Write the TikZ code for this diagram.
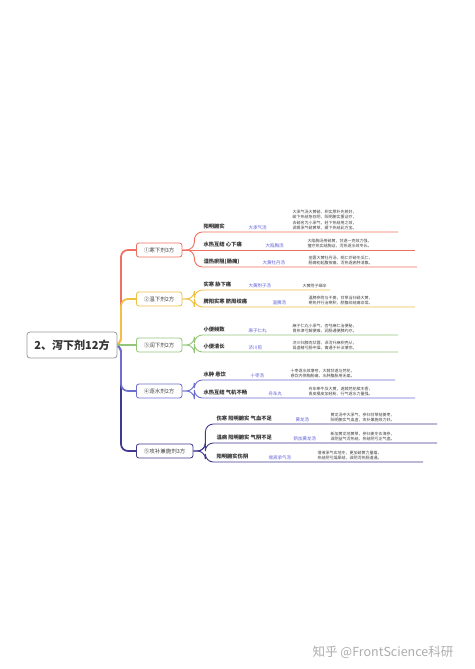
\documentclass[tikz,border=0pt]{standalone}
\usepackage{fontspec}
\setmainfont{Noto Sans CJK SC}
\definecolor{c1}{HTML}{EE7060}
\definecolor{c2}{HTML}{F0C040}
\definecolor{c3}{HTML}{92C77A}
\definecolor{c4}{HTML}{6E6FCC}
\definecolor{c5}{HTML}{3F3A8E}
\definecolor{fcol}{HTML}{5E5ED6}
\definecolor{rootline}{HTML}{9A9A9A}
\pgfdeclarelayer{paper}
\pgfdeclarelayer{bg}
\pgfsetlayers{paper,bg,main}
\begin{document}
\begin{tikzpicture}[x=1pt,y=-1pt,
  rootbox/.style={draw=rootline, line width=0.8pt, rounded corners=3pt, fill=white,
    minimum width=90pt, minimum height=26pt, inner sep=0pt,
    font=\bfseries\fontsize{11}{12}\selectfont, text=black!80},
  lvlone/.style={draw=#1, line width=0.8pt, rounded corners=2.5pt, fill=white,
    inner xsep=7.5pt, inner ysep=0pt, minimum height=14pt, anchor=west,
    font=\fontsize{5.5}{6}\selectfont, text=black!75},
  trunk/.style={draw=#1, line width=1.7pt, rounded corners=7pt},
  twig/.style={draw=#1, line width=0.9pt, rounded corners=8pt},
  lab/.style={anchor=south west, inner sep=0.3pt, font=\bfseries\fontsize{5.3}{6}\selectfont, text=black!80},
  form/.style={anchor=south west, inner sep=0.3pt, font=\fontsize{4.5}{5}\selectfont, text=fcol},
  desc/.style={anchor=south west, inner sep=0.3pt, align=left, font=\fontsize{4}{5.3}\selectfont, text=black!75},
  wm/.style={font=\fontsize{12.5}{14}\selectfont, text=black!32}
]
\begin{pgfonlayer}{paper}
\fill[white] (0,0) rectangle (474,669);
\end{pgfonlayer}
\useasboundingbox (0,0) rectangle (474,669);

% root and level-1 boxes
\node[rootbox] (root) at (72,345) {2、泻下剂12方};
\coordinate (hub) at (121,345);
\node[lvlone=c1] (b1) at (136,250) {①寒下剂3方};
\node[lvlone=c2] (b2) at (136,299) {②温下剂2方};
\node[lvlone=c3] (b3) at (136,345) {③润下剂2方};
\node[lvlone=c4] (b4) at (136,391) {④逐水剂2方};
\node[lvlone=c5] (b5) at (136,451) {⑤攻补兼施剂3方};

% level-1 connectors
\begin{pgfonlayer}{bg}
\draw[trunk=c1] (root.east) -- (hub) |- (b1.west);
\draw[trunk=c5] (root.east) -- (hub) |- (b5.west);
\draw[trunk=c2] (root.east) -- (hub) |- (b2.west);
\draw[trunk=c4] (root.east) -- (hub) |- (b4.west);
\draw[trunk=c3] (root.east) -- (b3.west);
\end{pgfonlayer}

% ---------- branch 1 ----------
\coordinate (k11) at (398,232);
\coordinate (k12) at (415,250);
\coordinate (k13) at (417,267);
\draw[twig=c1] (b1.east) -- ++(12,0) |- (k11);
\draw[twig=c1] (b1.east) -- (k12);
\draw[twig=c1] (b1.east) -- ++(12,0) |- (k13);
\node[lab] (l11) at (203,230) {阳明腑实};
\node[form] (f11) at (248,230) {大承气汤};
\node[desc] (d11) at (292,230.5) {大承气汤大黄硝，枳实厚朴先煎好，\\峻下热结急存阴，阳明腑实重证疗，\\去硝名为小承气，轻下热结用之效，\\调胃承气硝黄草，缓下热结此方宝。};
\node[lab] (l12) at (203,248) {水热互结 心下痛};
\node[form] (f12) at (265,248) {大陷胸汤};
\node[desc] (d12) at (307,248.5) {大陷胸汤用硝黄，甘遂一克效力强，\\擅疗热实结胸证，泻热逐水效专长。};
\node[lab] (l13) at (203,265) {湿热瘀阻(肠痈)};
\node[form] (f13) at (262,265) {大黄牡丹汤};
\node[desc] (d13) at (308,265.5) {金匮大黄牡丹汤，桃仁芒硝冬瓜仁，\\肠痈初起腹按痛，泻热逐瘀肿消散。};

% ---------- branch 2 ----------
\coordinate (k21) at (330,290);
\coordinate (k22) at (415,307);
\draw[twig=c2] (b2.east) -- ++(12,0) |- (k21);
\draw[twig=c2] (b2.east) -- ++(12,0) |- (k22);
\node[lab] (l21) at (203,288) {实寒 胁下痛};
\node[form] (f21) at (248,288) {大黄附子汤};
\node[desc] (d21) at (302,288.5) {大黄附子细辛};
\node[lab] (l22) at (203,305) {脾阳实寒 脐周绞痛};
\node[form] (f22) at (272,305) {温脾汤};
\node[desc] (d22) at (308,305.5) {温脾参附与干姜，甘草当归硝大黄，\\寒热并行治寒积，脐腹绞结痛非常。};

% ---------- branch 3 ----------
\coordinate (k31) at (398,335);
\coordinate (k32) at (398,352);
\draw[twig=c3] (b3.east) -- ++(12,0) |- (k31);
\draw[twig=c3] (b3.east) -- ++(12,0) |- (k32);
\node[lab] (l31) at (203,333) {小便频数};
\node[form] (f31) at (248,333) {麻子仁丸};
\node[desc] (d31) at (292,333.5) {麻子仁丸小承气，杏芍麻仁治便秘，\\胃热津亏解便难，润肠通便脾约疗。};
\node[lab] (l32) at (203,350) {小便清长};
\node[form] (f32) at (248,350) {济川煎};
\node[desc] (d32) at (292,350.5) {济川归膝肉苁蓉，泽泻升麻枳壳从，\\肾虚精亏肠中燥，寓通于补法堪宗。};

% ---------- branch 4 ----------
\coordinate (k41) at (395,380);
\coordinate (k42) at (415,398);
\draw[twig=c4] (b4.east) -- ++(12,0) |- (k41);
\draw[twig=c4] (b4.east) -- ++(12,0) |- (k42);
\node[lab] (l41) at (203,378) {水肿 悬饮};
\node[form] (f41) at (250,378) {十枣汤};
\node[desc] (d41) at (290,378.5) {十枣逐水效堪夸，大戟甘遂与芫花，\\悬饮内停胸胁痛，水肿腹胀用无差。};
\node[lab] (l42) at (203,396) {水热互结 气机不畅};
\node[form] (f42) at (268,396) {舟车丸};
\node[desc] (d42) at (308,396.5) {舟车牵牛及大黄，遂戟芫花槟木香，\\青皮橘皮加轻粉，行气逐水力量强。};

% ---------- branch 5 ----------
\coordinate (k51) at (437,424);
\coordinate (k52) at (437,443);
\coordinate (k53) at (423,462);
\draw[twig=c5] (b5.east) -- ++(12,0) |- (k51);
\draw[twig=c5] (b5.east) -- ++(12,0) |- (k52);
\draw[twig=c5] (b5.east) -- ++(12,0) |- (k53);
\node[lab] (l51) at (216,422) {伤寒 阳明腑实 气血不足};
\node[form] (f51) at (295,422) {黄龙汤};
\node[desc] (d51) at (330,422.5) {黄龙汤中大承气，参归甘草桔姜枣，\\阳明腑实气血虚，攻补兼施效力好。};
\node[lab] (l52) at (216,441) {温病 阳明腑实 气阴不足};
\node[form] (f52) at (293,441) {新加黄龙汤};
\node[desc] (d52) at (330,441.5) {新加黄龙地黄草，参归麦冬玄海参，\\滋阴益气泻热结，热结阴亏正气虚。};
\node[lab] (l53) at (216,460) {阳明腑实伤阴};
\node[form] (f53) at (268,460) {增液承气汤};
\node[desc] (d53) at (317,460.5) {增液承气玄地冬，更加硝黄力量雄，\\热结阴亏燥屎结，滋阴泻热肠道通。};

% watermark
\node[wm] (wmark) at (383,652) {知乎 @FrontScience科研};
\end{tikzpicture}
\end{document}
